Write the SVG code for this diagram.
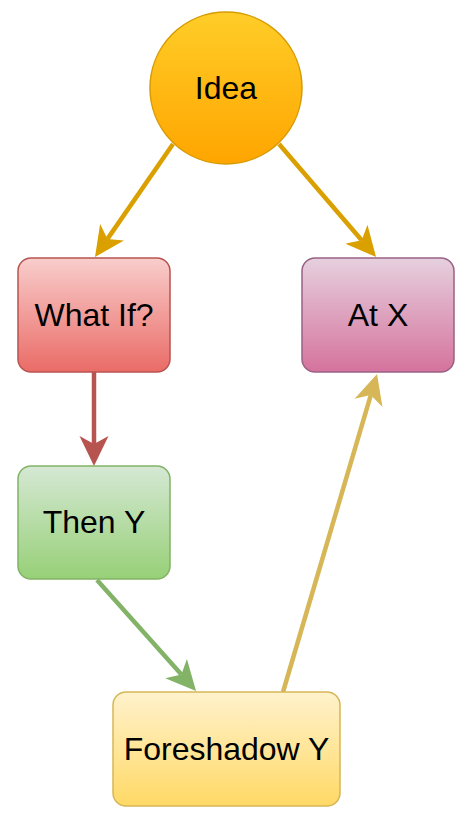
<svg xmlns="http://www.w3.org/2000/svg" width="474" height="828" viewBox="0 0 474 828">
<style>
.lbl{font-family:"Liberation Sans",Arial,sans-serif;font-size:32px;fill:#000;text-anchor:middle}
.edge{fill:none;stroke-width:4.5}
</style>
<defs>
<linearGradient id="gOrange" x1="0" y1="0" x2="0" y2="1"><stop offset="0" stop-color="#ffcd28"/><stop offset="1" stop-color="#ffa500"/></linearGradient>
<linearGradient id="gRed" x1="0" y1="0" x2="0" y2="1"><stop offset="0" stop-color="#f8cecc"/><stop offset="1" stop-color="#ea6b66"/></linearGradient>
<linearGradient id="gPink" x1="0" y1="0" x2="0" y2="1"><stop offset="0" stop-color="#e6d0de"/><stop offset="1" stop-color="#d5739d"/></linearGradient>
<linearGradient id="gGreen" x1="0" y1="0" x2="0" y2="1"><stop offset="0" stop-color="#d5e8d4"/><stop offset="1" stop-color="#97d077"/></linearGradient>
<linearGradient id="gYellow" x1="0" y1="0" x2="0" y2="1"><stop offset="0" stop-color="#fff2cc"/><stop offset="1" stop-color="#ffd966"/></linearGradient>
<marker id="aOrange" viewBox="-8 -15 30 30" refX="0" refY="0" markerWidth="30" markerHeight="30" markerUnits="userSpaceOnUse" orient="auto"><path d="M22,0 L-8,-14.5 L0,0 L-8,14.5 Z" fill="#daa000"/></marker>
<marker id="aRed" viewBox="-8 -15 30 30" refX="0" refY="0" markerWidth="30" markerHeight="30" markerUnits="userSpaceOnUse" orient="auto"><path d="M22,0 L-8,-14.5 L0,0 L-8,14.5 Z" fill="#b85450"/></marker>
<marker id="aGreen" viewBox="-8 -15 30 30" refX="0" refY="0" markerWidth="30" markerHeight="30" markerUnits="userSpaceOnUse" orient="auto"><path d="M22,0 L-8,-14.5 L0,0 L-8,14.5 Z" fill="#82b366"/></marker>
<marker id="aYellow" viewBox="-8 -15 30 30" refX="0" refY="0" markerWidth="30" markerHeight="30" markerUnits="userSpaceOnUse" orient="auto"><path d="M22,0 L-8,-14.5 L0,0 L-8,14.5 Z" fill="#d6b656"/></marker>
</defs>
<g id="connectors">
<path class="edge" stroke="#daa000" d="M173,144 L107.5,238.9" marker-end="url(#aOrange)"/>
<path class="edge" stroke="#daa000" d="M279,144 L361.7,240.3" marker-end="url(#aOrange)"/>
<path class="edge" stroke="#b85450" d="M94,372 L94,444" marker-end="url(#aRed)"/>
<path class="edge" stroke="#82b366" d="M97,580 L181.4,674.6" marker-end="url(#aGreen)"/>
<path class="edge" stroke="#d6b656" d="M283,692 L370.8,395.1" marker-end="url(#aYellow)"/>
</g>
<g id="idea">
<circle cx="226" cy="88" r="76" fill="url(#gOrange)" stroke="#d79b00" stroke-width="1.5"/>
<text class="lbl" x="226" y="99">Idea</text>
</g>
<g id="whatif">
<rect x="18" y="258" width="152" height="114" rx="13" fill="url(#gRed)" stroke="#b85450" stroke-width="1.5"/>
<text class="lbl" x="94" y="326">What If?</text>
</g>
<g id="atx">
<rect x="302" y="258" width="152" height="114" rx="13" fill="url(#gPink)" stroke="#996185" stroke-width="1.5"/>
<text class="lbl" x="378" y="326">At X</text>
</g>
<g id="theny">
<rect x="18" y="466" width="152" height="113" rx="13" fill="url(#gGreen)" stroke="#82b366" stroke-width="1.5"/>
<text class="lbl" x="94" y="533">Then Y</text>
</g>
<g id="foreshadow">
<rect x="113" y="692" width="227" height="114" rx="13" fill="url(#gYellow)" stroke="#d6b656" stroke-width="1.5"/>
<text class="lbl" x="226.5" y="760">Foreshadow Y</text>
</g>
</svg>
